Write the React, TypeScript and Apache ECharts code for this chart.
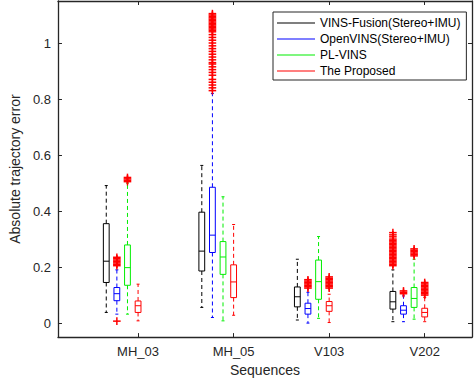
import React, { useEffect, useRef } from "react";
import * as echarts from "echarts";

const sequences = ["MH_03", "MH_05", "V103", "V202"];
const methods = ["VINS-Fusion(Stereo+IMU)", "OpenVINS(Stereo+IMU)", "PL-VINS", "The Proposed"];
const colors = ["#000000", "#0000ff", "#00ee00", "#ff0000"];
const yTicks = [0, 0.2, 0.4, 0.6, 0.8, 1];

// [whiskerLow, q1, median, q3, whiskerHigh] per sequence
const vinsFusion = [
  [0.038, 0.145, 0.221, 0.355, 0.491],
  [0.056, 0.186, 0.257, 0.396, 0.563],
  [0.011, 0.058, 0.094, 0.129, 0.228],
  [0.005, 0.05, 0.076, 0.113, 0.19],
];
const openVins = [
  [0.032, 0.08, 0.105, 0.127, 0.19],
  [0.02, 0.252, 0.314, 0.485, 0.82],
  [0.0, 0.032, 0.052, 0.071, 0.11],
  [0.005, 0.032, 0.046, 0.062, 0.097],
];
const plVins = [
  [0.032, 0.135, 0.198, 0.279, 0.5],
  [0.008, 0.174, 0.236, 0.291, 0.451],
  [0.017, 0.085, 0.148, 0.225, 0.309],
  [0.014, 0.056, 0.088, 0.127, 0.228],
];
const proposed = [
  [0.008, 0.038, 0.062, 0.079, 0.139],
  [0.028, 0.091, 0.147, 0.208, 0.352],
  [0.002, 0.042, 0.062, 0.077, 0.103],
  [0.005, 0.022, 0.038, 0.053, 0.092],
];

// outliers per method per sequence
const vinsFusionOut = [
  [],
  [],
  [],
  [0.323, 0.315, 0.308, 0.3, 0.295, 0.29, 0.285, 0.28, 0.275, 0.27, 0.265, 0.26, 0.255, 0.25, 0.245, 0.24, 0.235, 0.23, 0.225, 0.22, 0.215, 0.21, 0.205],
];
const openVinsOut = [
  [0.235, 0.23, 0.225, 0.22, 0.215, 0.21, 0.205, 0.007],
  [1.105, 1.1, 1.095, 1.09, 1.085, 1.08, 1.075, 1.07, 1.065, 1.06, 1.055, 1.05, 1.045, 1.04, 1.03, 1.02, 1.01, 1.0, 0.99, 0.98, 0.97, 0.96, 0.95, 0.94, 0.93, 0.925, 0.915, 0.905, 0.895, 0.885, 0.87, 0.86, 0.85, 0.84, 0.83],
  [0.125, 0.13, 0.135, 0.14, 0.145, 0.15, 0.155],
  [0.105, 0.11, 0.115],
];
const plVinsOut = [
  [0.505, 0.51, 0.515, 0.52],
  [],
  [],
  [0.24, 0.245, 0.25, 0.255, 0.26, 0.265],
];
const proposedOut = [
  [],
  [],
  [0.125, 0.13, 0.135, 0.14, 0.145, 0.15, 0.155, 0.16, 0.165],
  [0.1, 0.105, 0.11, 0.115, 0.12, 0.125, 0.13, 0.135, 0.14, 0.145],
];

const allStats = [vinsFusion, openVins, plVins, proposed];
const allOut = [vinsFusionOut, openVinsOut, plVinsOut, proposedOut];
const offsets = [-0.333, -0.222, -0.111, 0];

const FONT = "Liberation Sans, Arial, Helvetica, sans-serif";
const AX = "#262626";

export default function App() {
  const ref = useRef<HTMLDivElement>(null);
  useEffect(() => {
    if (!ref.current) return;
    const chart = echarts.init(ref.current, undefined, { renderer: "svg" });

    const boxSeries = methods.map((name, m) => ({
      type: "custom",
      name,
      itemStyle: { color: colors[m] },
      xAxisIndex: 0,
      yAxisIndex: 0,
      data: allStats[m].map((s, g) => [g + 1 + offsets[m], ...s]),
      renderItem: (params: any, api: any) => {
        const x = api.value(0);
        const lo = api.coord([x, api.value(1)]);
        const q1 = api.coord([x, api.value(2)]);
        const med = api.coord([x, api.value(3)]);
        const q3 = api.coord([x, api.value(4)]);
        const hi = api.coord([x, api.value(5)]);
        const cx = lo[0];
        const hw = 2.9;
        const cw = 1.5;
        const c = colors[m];
        const dashed = { stroke: c, lineWidth: 1, lineDash: [4, 3], fill: null };
        const solid = { stroke: c, lineWidth: 1, fill: null };
        return {
          type: "group",
          children: [
            { type: "line", shape: { x1: cx, y1: q3[1], x2: cx, y2: hi[1] }, style: dashed },
            { type: "line", shape: { x1: cx, y1: q1[1], x2: cx, y2: lo[1] }, style: dashed },
            { type: "line", shape: { x1: cx - cw, y1: hi[1], x2: cx + cw, y2: hi[1] }, style: solid },
            { type: "line", shape: { x1: cx - cw, y1: lo[1], x2: cx + cw, y2: lo[1] }, style: solid },
            { type: "rect", shape: { x: cx - hw, y: q3[1], width: hw * 2, height: q1[1] - q3[1] }, style: solid },
            { type: "line", shape: { x1: cx - hw, y1: med[1], x2: cx + hw, y2: med[1] }, style: solid },
          ],
        };
      },
    }));

    const outData: number[][] = [];
    allOut.forEach((mo, m) => mo.forEach((arr, g) => arr.forEach((v) => outData.push([g + 1 + offsets[m], v]))));

    const outSeries = {
      type: "custom",
      name: "outliers",
      xAxisIndex: 0,
      yAxisIndex: 0,
      data: outData,
      renderItem: (params: any, api: any) => {
        const p = api.coord([api.value(0), api.value(1)]);
        const r = 3.8;
        const st = { stroke: "#ff0000", lineWidth: 1.5, fill: null };
        return {
          type: "group",
          children: [
            { type: "line", shape: { x1: p[0] - r, y1: p[1], x2: p[0] + r, y2: p[1] }, style: st },
            { type: "line", shape: { x1: p[0], y1: p[1] - r, x2: p[0], y2: p[1] + r }, style: st },
          ],
        };
      },
    };

    const axisCommon = {
      axisLine: { show: true, onZero: false, lineStyle: { color: AX, width: 1.3 } },
      splitLine: { show: false },
    };

    chart.setOption({
      animation: false,
      backgroundColor: "#ffffff",
      textStyle: { fontFamily: FONT },
      grid: { left: 43, right: 2, top: 1, bottom: 43, containLabel: false },
      legend: {
        data: methods,
        orient: "vertical",
        left: 273,
        top: 12,
        padding: [4, 6, 2, 4],
        itemGap: 2,
        itemWidth: 38,
        itemHeight: 1,
        icon: "rect",
        borderColor: AX,
        borderWidth: 1,
        backgroundColor: "#ffffff",
        textStyle: { fontFamily: FONT, fontSize: 12, color: "#000", lineHeight: 14 },
      },
      xAxis: [
        {
          type: "value",
          min: 0.1616,
          max: 4.495,
          position: "bottom",
          name: "Sequences",
          nameLocation: "middle",
          nameGap: 25,
          nameTextStyle: { fontFamily: FONT, fontSize: 14, color: AX },
          ...axisCommon,
          axisTick: { show: true, inside: true, length: 4, customValues: [1, 2, 3, 4], lineStyle: { color: AX } },
          axisLabel: {
            show: true,
            customValues: [1, 2, 3, 4],
            margin: 8,
            fontFamily: FONT,
            fontSize: 13,
            color: AX,
            formatter: (v: number) => sequences[Math.round(v) - 1] ?? "",
          },
        },
        {
          type: "value",
          min: 0.1616,
          max: 4.495,
          position: "top",
          ...axisCommon,
          axisTick: { show: true, inside: true, length: 4, customValues: [1, 2, 3, 4], lineStyle: { color: AX } },
          axisLabel: { show: false },
        },
      ],
      yAxis: [
        {
          type: "value",
          min: -0.05,
          max: 1.15,
          position: "left",
          name: "Absolute trajectory error",
          nameLocation: "middle",
          nameGap: 30,
          nameTextStyle: { fontFamily: FONT, fontSize: 14, color: AX },
          ...axisCommon,
          axisTick: { show: true, inside: true, length: 4, customValues: yTicks, lineStyle: { color: AX } },
          axisLabel: {
            show: true,
            customValues: yTicks,
            margin: 7,
            fontFamily: FONT,
            fontSize: 13,
            color: AX,
            formatter: (v: number) => String(Math.round(v * 10) / 10),
          },
        },
        {
          type: "value",
          min: -0.05,
          max: 1.15,
          position: "right",
          ...axisCommon,
          axisTick: { show: true, inside: true, length: 4, customValues: yTicks, lineStyle: { color: AX } },
          axisLabel: { show: false },
        },
      ],
      series: [...boxSeries, outSeries],
    });
    return () => chart.dispose();
  }, []);
  return <div ref={ref} style={{ width: 474, height: 382, position: "absolute", left: 0, top: 0 }} />;
}
